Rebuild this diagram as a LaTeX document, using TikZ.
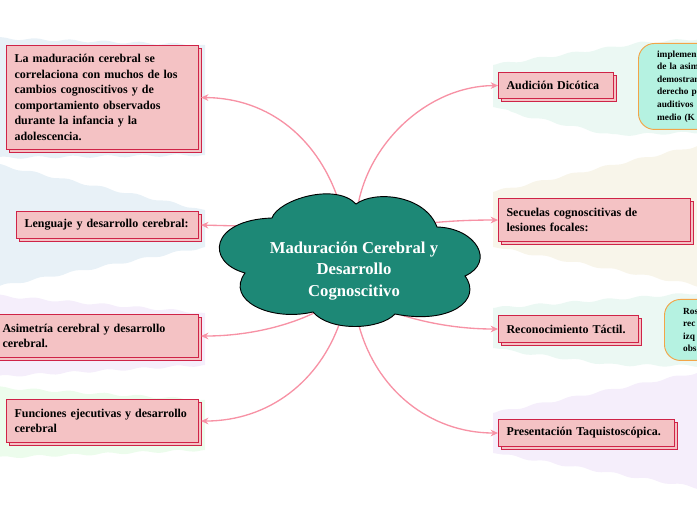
\documentclass[tikz,border=0pt]{standalone}
\usepackage{fontspec}
\setmainfont{Liberation Serif}
\usetikzlibrary{shadows,arrows.meta,decorations.pathmorphing}

\definecolor{boxfill}{HTML}{F4C2C4}
\definecolor{boxline}{HTML}{CF2347}
\definecolor{linkpink}{HTML}{F792A5}
\definecolor{cloudgreen}{HTML}{1D8876}
\definecolor{notefill}{HTML}{B5F2E1}
\definecolor{noteline}{HTML}{F2A548}
\definecolor{blobblue}{HTML}{E8F1F7}
\definecolor{blobpurple}{HTML}{F5EEFB}
\definecolor{blobgreen}{HTML}{ECFCEC}
\definecolor{blobteal}{HTML}{EBF8F3}
\definecolor{blobcream}{HTML}{F8F5EA}

\tikzset{
    topicbox/.style={draw=boxline, line width=0.8pt, fill=boxfill, anchor=north west, align=left,
        inner xsep=6pt, inner ysep=0pt, font=\fontsize{9}{11.6}\selectfont\bfseries,
        copy shadow={shadow xshift=1.9pt, shadow yshift=-1.9pt}},
    notebox/.style={draw=noteline, line width=0.7pt, fill=notefill, rounded corners=12pt, anchor=north west,
        align=left, inner xsep=14pt, inner ysep=0pt, font=\fontsize{7}{9.4}\selectfont\bfseries},
    wavy/.style={decoration={snake, segment length=26pt, amplitude=0.9pt}},
    link/.style={draw=linkpink, line width=1pt, -{Stealth[length=5.5pt,width=5pt]}}
}

\begin{document}
\begin{tikzpicture}[x=0.75pt, y=-0.75pt]
    \useasboundingbox (0,0) rectangle (697,520);
    \clip (0,0) rectangle (697,520);

    % Soft patches behind the branches
    \fill [wavy, blobblue] (-10,38) decorate { -- (205,45) } -- (205,155) decorate { -- (-10,158) } -- cycle;
    \fill [wavy, blobblue] (-10,163) decorate { -- (205,210) } -- (205,247) decorate { -- (-10,288) } -- cycle;
    \fill [wavy, blobpurple] (-10,295) decorate { -- (205,313) } -- (205,365) decorate { -- (-10,377) } -- cycle;
    \fill [wavy, blobgreen] (-10,387) decorate { -- (205,400) } -- (205,450) decorate { -- (-10,458) } -- cycle;
    \fill [wavy, blobteal] (493,65) decorate { -- (640,43) -- (710,38) } -- (710,132) decorate { -- (620,135) -- (493,107) } -- cycle;
    \fill [wavy, blobcream] (493,192) decorate { -- (710,143) } -- (710,288) decorate { -- (493,247) } -- cycle;
    \fill [wavy, blobteal] (493,308) decorate { -- (710,292) } -- (710,366) decorate { -- (620,365) -- (493,348) } -- cycle;
    \fill [wavy, blobpurple] (493,413) decorate { -- (710,370) } -- (710,490) decorate { -- (493,453) } -- cycle;

    % Branch boxes
    \foreach \x/\y/\w/\h/\name/\txt in {
        6/45/192/104/madura/{La maduración cerebral se\\correlaciona con muchos de los\\cambios cognoscitivos y de\\comportamiento observados\\durante la infancia y la\\adolescencia.},
        16/211/182/27/lenguaje/{Lenguaje y desarrollo cerebral:},
        -6/314/204/43/asimetria/{Asimetría cerebral y desarrollo\\cerebral.},
        6/399/192/43/funciones/{Funciones ejecutivas y desarrollo\\cerebral},
        498/72/115/26/audicion/{Audición Dicótica},
        498/198/192/43/secuelas/{Secuelas cognoscitivas de\\lesiones focales:},
        498/315/140/27/tactil/{Reconocimiento Táctil.},
        498/419/176/27/taquis/{Presentación Taquistoscópica.}} {
        \pgfmathsetmacro{\tw}{(\w-16)*0.75}
        \pgfmathsetmacro{\th}{\h*0.75}
        \node (\name) [topicbox, text width=\tw pt, minimum height=\th pt] at (\x,\y) {\txt};
    }

    % Notes cut by the page edge
    \node (noteaudicion) [notebox, text width=90pt, minimum height=64.5pt] at (638,43) {implemen\\de la asim\\demostran\\derecho p\\auditivos\\medio (K};
    \node (notetactil) [notebox, text width=90pt, minimum height=45.75pt] at (664,299) {Ros\\rec\\izq\\obs};

    % Where the branches leave the cloud
    \coordinate (hubA) at (340,205);
    \coordinate (hubB) at (240,226);
    \coordinate (hubC) at (316,312);
    \coordinate (hubD) at (340,322);
    \coordinate (hubE) at (358,205);
    \coordinate (hubF) at (430,223);
    \coordinate (hubG) at (392,312);
    \coordinate (hubH) at (358,322);

    \draw [link] (hubA) .. controls (320,140) and (270,98) .. ([xshift=1.5pt]madura.east);
    \draw [link] (hubB) -- ([xshift=1.5pt]lenguaje.east);
    \draw [link] (hubC) .. controls (290,325) and (250,336) .. ([xshift=1.5pt]asimetria.east);
    \draw [link] (hubD) .. controls (320,380) and (270,421) .. ([xshift=1.5pt]funciones.east);
    \draw [link] (hubE) .. controls (370,140) and (430,86) .. (audicion.west);
    \draw [link] (hubF) .. controls (450,221) and (470,220) .. (secuelas.west);
    \draw [link] (hubG) .. controls (430,325) and (465,329) .. (tactil.west);
    \draw [link] (hubH) .. controls (375,390) and (430,433) .. (taquis.west);

    % Central cloud
    \draw [draw=black, line width=0.7pt, fill=cloudgreen] (272,218)
        .. controls (278,200) and (335,182) .. (356,204)
        .. controls (375,190) and (425,195) .. (437,227)
        .. controls (476,228) and (496,262) .. (465,276)
        .. controls (483,300) and (450,325) .. (395,314)
        .. controls (380,330) and (330,332) .. (313,312)
        .. controls (270,322) and (225,300) .. (245,273)
        .. controls (205,262) and (210,220) .. (272,218) -- cycle;
    \node (title) [text=white, align=center, font=\fontsize{12.5}{16}\selectfont\bfseries] at (354,271) {Maduración Cerebral y\\Desarrollo\\Cognoscitivo};
\end{tikzpicture}
\end{document}
